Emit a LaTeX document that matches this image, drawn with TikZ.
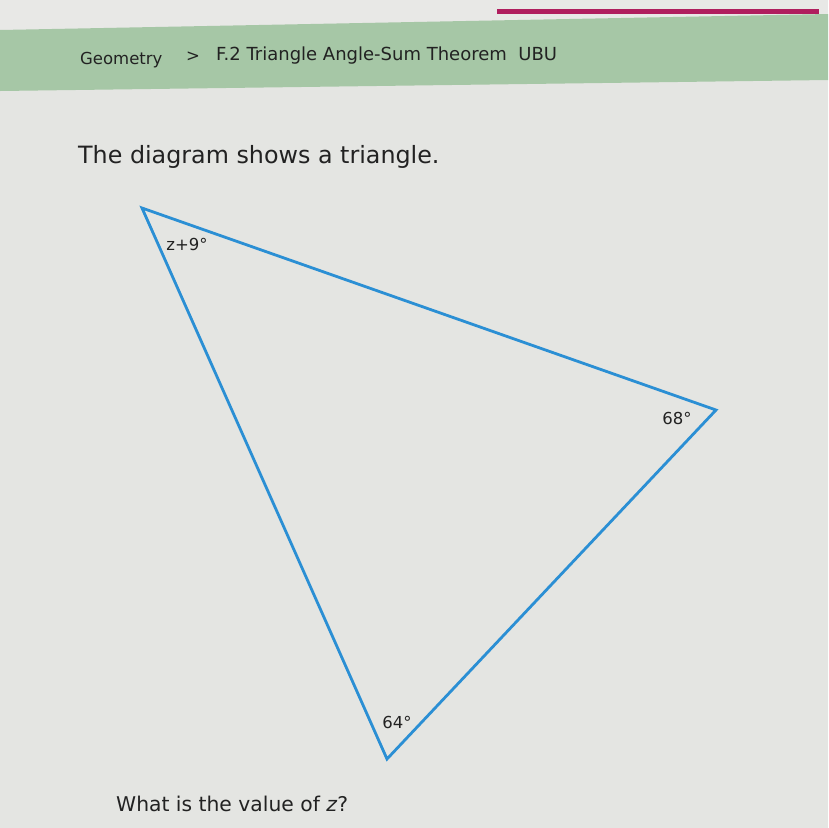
\documentclass[tikz,border=0pt]{standalone}
\usepackage{fontspec}
\setmainfont{DejaVu Sans}
\definecolor{bgtop}{HTML}{E8E8E6}
\definecolor{bgbody}{HTML}{E4E5E2}
\definecolor{band}{HTML}{A6C7A6}
\definecolor{barred}{HTML}{B01E5E}
\definecolor{triblue}{HTML}{2B8FD4}
\definecolor{txt}{HTML}{222222}
\tikzset{
  lbl/.style={text=txt, inner sep=0pt, font=\fontsize{16.5}{19}\selectfont},
  crumb/.style={anchor=base west, inner sep=0pt, text=txt},
  side/.style={draw=triblue, line width=2.8pt, line join=miter}
}
\begin{document}
\begin{tikzpicture}[x=1pt,y=-1pt]
\useasboundingbox (0,0) rectangle (828,828);
\fill[bgbody] (0,0) rectangle (828,828);
\fill[bgtop] (0,0) rectangle (828,30);
\fill[barred] (497,9) rectangle (819,14);
\fill[band] (0,30) -- (828,14) -- (828,80) -- (0,91) -- cycle;
\node[crumb, font=\fontsize{16.5}{19}\selectfont] (crumb1) at (80,64) {Geometry};
\node[crumb, font=\fontsize{16.5}{19}\selectfont] (sep) at (186,61) {\textgreater};
\node[crumb, font=\fontsize{18}{21}\selectfont] (crumb2) at (216,60) {F.2 Triangle Angle-Sum Theorem\ \ UBU};
\node[anchor=base west, inner sep=0pt, text=txt, font=\fontsize{23.8}{27}\selectfont] (title) at (78,163) {The diagram shows a triangle.};
\coordinate (A) at (142,208);
\coordinate (B) at (716,410);
\coordinate (C) at (387,759);
\draw[side] (A) -- (B) -- (C) -- cycle;
\node[lbl] (la) at (187,244) {z+9°};
\node[lbl] (lb) at (677,418) {68°};
\node[lbl] (lc) at (397,722) {64°};
\node[anchor=base west, inner sep=0pt, text=txt, font=\fontsize{20.3}{24}\selectfont] (q) at (116,811) {What is the value of \textit{z}?};
\end{tikzpicture}
\end{document}
